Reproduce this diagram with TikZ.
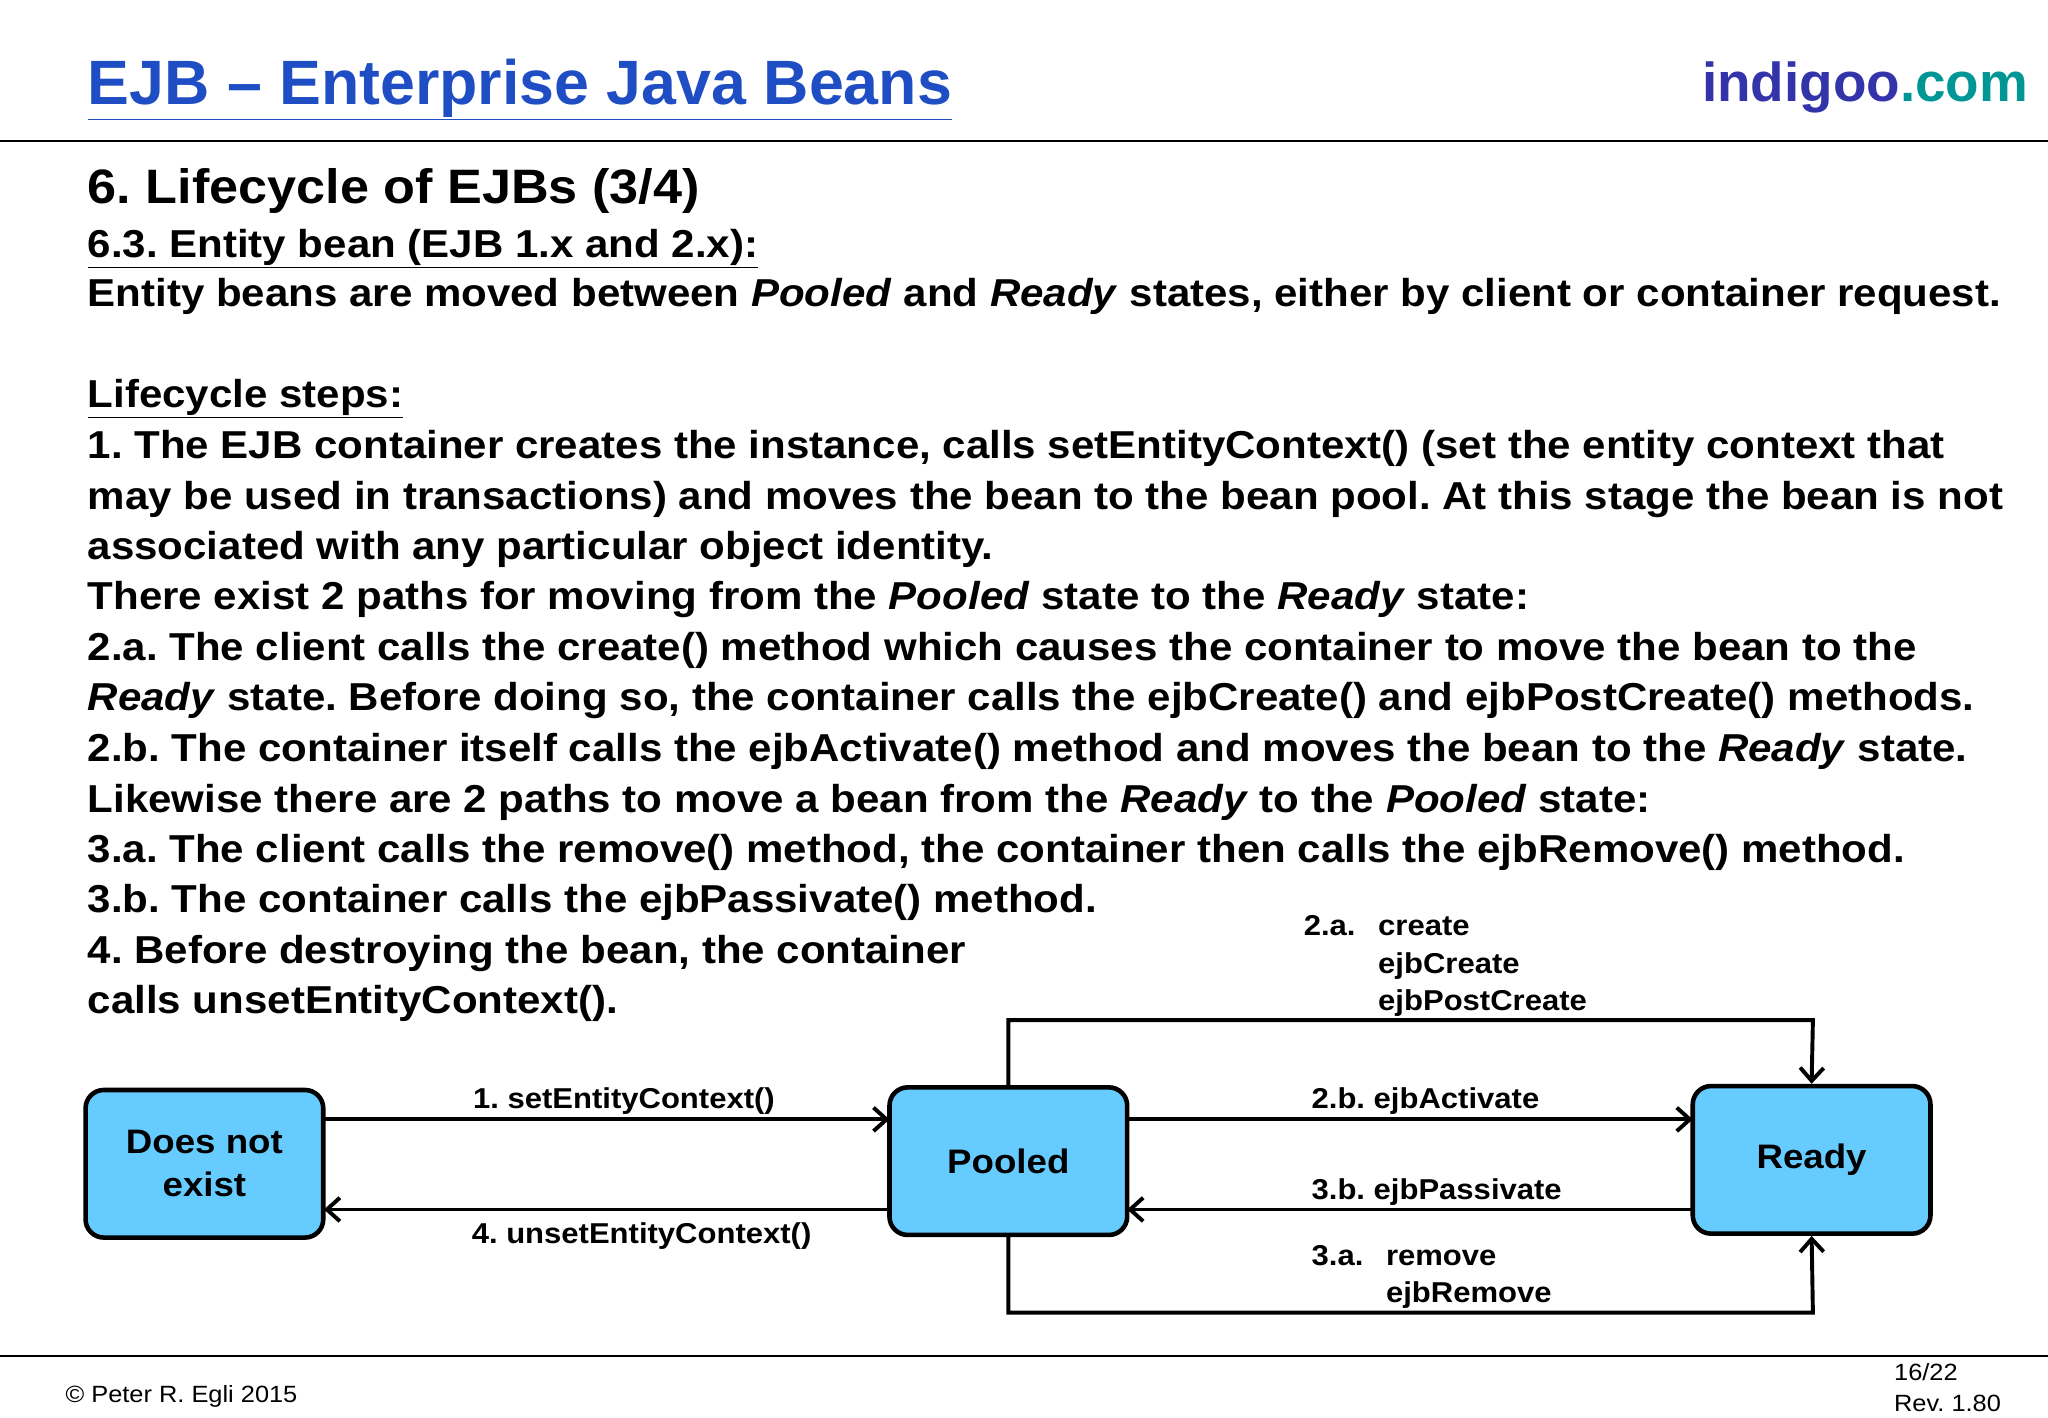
\documentclass[tikz,border=0pt]{standalone}
\usepackage{fontspec}
\setmainfont{Liberation Sans}
\newfontfamily\wide{Liberation Sans}[FakeStretch=1.08]
\frenchspacing
\usetikzlibrary{arrows.meta}
\definecolor{ttl}{RGB}{31,78,196}
\definecolor{ind}{RGB}{51,51,170}
\definecolor{teal}{RGB}{0,150,150}
\definecolor{bx}{RGB}{102,204,255}
\tikzset{
 txt/.style={anchor=base west,inner sep=0pt,font=\wide\fontsize{29.8}{34}\selectfont\bfseries},
 lbl/.style={anchor=base west,inner sep=0pt,font=\wide\fontsize{22}{26}\selectfont\bfseries},
 st/.style={draw,line width=3.5pt,fill=bx,rounded corners=14pt,minimum width=182pt,minimum height=113pt,align=center,font=\wide\fontsize{26}{33}\selectfont\bfseries},
 con/.style={line width=3pt,-{Straight Barb[length=10pt,width=18pt,line width=3pt]}},
}
\begin{document}
\begin{tikzpicture}[x=1pt,y=-1pt]
\useasboundingbox (0,0) rectangle (1568,1085);
\node[anchor=base west,inner sep=0pt,text=ttl,font=\fontsize{48}{56}\selectfont\bfseries] (t) at (67,80) {\underline{EJB – Enterprise Java Beans}};
\node[anchor=base east,inner sep=0pt,font=\fontsize{42}{50}\selectfont\bfseries] (ind) at (1553,78) {\textcolor{ind}{indigoo}\textcolor{teal}{.com}};
\draw[line width=1.5pt] (0,108) -- (1568,108);
\node[anchor=base west,inner sep=0pt,font=\wide\fontsize{37}{44}\selectfont\bfseries] (h) at (67,156) {6. Lifecycle of EJBs (3/4)};
\node[txt] (s) at (67,197) {\underline{6.3. Entity bean (EJB 1.x and 2.x):}};
\node[txt] (l1) at (67,235) {Entity beans are moved between \textit{Pooled} and \textit{Ready} states, either by client or container request.};
\node[txt] (l2) at (67,312) {\underline{Lifecycle steps:}};
\node[txt] (l3) at (67,351) {1. The EJB container creates the instance, calls setEntityContext() (set the entity context that};
\node[txt] (l4) at (67,390) {may be used in transactions) and moves the bean to the bean pool. At this stage the bean is not};
\node[txt] (l5) at (67,428) {associated with any particular object identity.};
\node[txt] (l6) at (67,467) {There exist 2 paths for moving from the \textit{Pooled} state to the \textit{Ready} state:};
\node[txt] (l7) at (67,506) {2.a. The client calls the create() method which causes the container to move the bean to the};
\node[txt] (l8) at (67,544) {\textit{Ready} state. Before doing so, the container calls the ejbCreate() and ejbPostCreate() methods.};
\node[txt] (l9) at (67,583) {2.b. The container itself calls the ejbActivate() method and moves the bean to the \textit{Ready} state.};
\node[txt] (l10) at (67,622) {Likewise there are 2 paths to move a bean from the \textit{Ready} to the \textit{Pooled} state:};
\node[txt] (l11) at (67,660) {3.a. The client calls the remove() method, the container then calls the ejbRemove() method.};
\node[txt] (l12) at (67,699) {3.b. The container calls the ejbPassivate() method.};
\node[txt] (l13) at (67,738) {4. Before destroying the bean, the container};
\node[txt] (l14) at (67,776) {calls unsetEntityContext().};
\node[st] (dne) at (156.5,891) {Does not\\exist};
\node[st] (po) at (772,889) {Pooled};
\node[st] (re) at (1387,888) {Ready};
\coordinate (a1) at (248,857); \coordinate (a2) at (681,857);
\coordinate (b1) at (681,926); \coordinate (b2) at (248,926);
\coordinate (c1) at (863,857); \coordinate (c2) at (1296,857);
\coordinate (d1) at (1296,926); \coordinate (d2) at (863,926);
\draw[con] (a1) -- (a2);
\draw[con] (b1) -- (b2);
\draw[con] (c1) -- (c2);
\draw[con] (d1) -- (d2);
\draw[con] (po.north) -- (772,781) -- (1388,781) -- (re.north);
\draw[con] (po.south) -- (772,1005) -- (1388,1005) -- (re.south);
\node[lbl] (la1) at (362,849) {1. setEntityContext()};
\node[lbl] (la4) at (361,952) {4. unsetEntityContext()};
\node[lbl] (lb) at (1004,849) {2.b. ejbActivate};
\node[lbl] (ld) at (1004,918) {3.b. ejbPassivate};
\node[lbl] (l2a) at (998,716) {2.a.};
\node[lbl] (l2a1) at (1055,716) {create};
\node[lbl] (l2a2) at (1055,745) {ejbCreate};
\node[lbl] (l2a3) at (1055,774) {ejbPostCreate};
\node[lbl] (l3a) at (1004,969) {3.a.};
\node[lbl] (l3a1) at (1061,969) {remove};
\node[lbl] (l3a2) at (1061,997) {ejbRemove};
\draw[line width=1.2pt] (0,1038) -- (1568,1038);
\node[anchor=base west,inner sep=0pt,font=\wide\fontsize{18}{22}\selectfont] (cp) at (50,1074) {© Peter R. Egli 2015};
\node[anchor=base west,inner sep=0pt,font=\wide\fontsize{18}{22}\selectfont] (pg) at (1450,1057) {16/22};
\node[anchor=base west,inner sep=0pt,font=\wide\fontsize{18}{22}\selectfont] (rv) at (1450,1081) {Rev. 1.80};
\end{tikzpicture}
\end{document}
